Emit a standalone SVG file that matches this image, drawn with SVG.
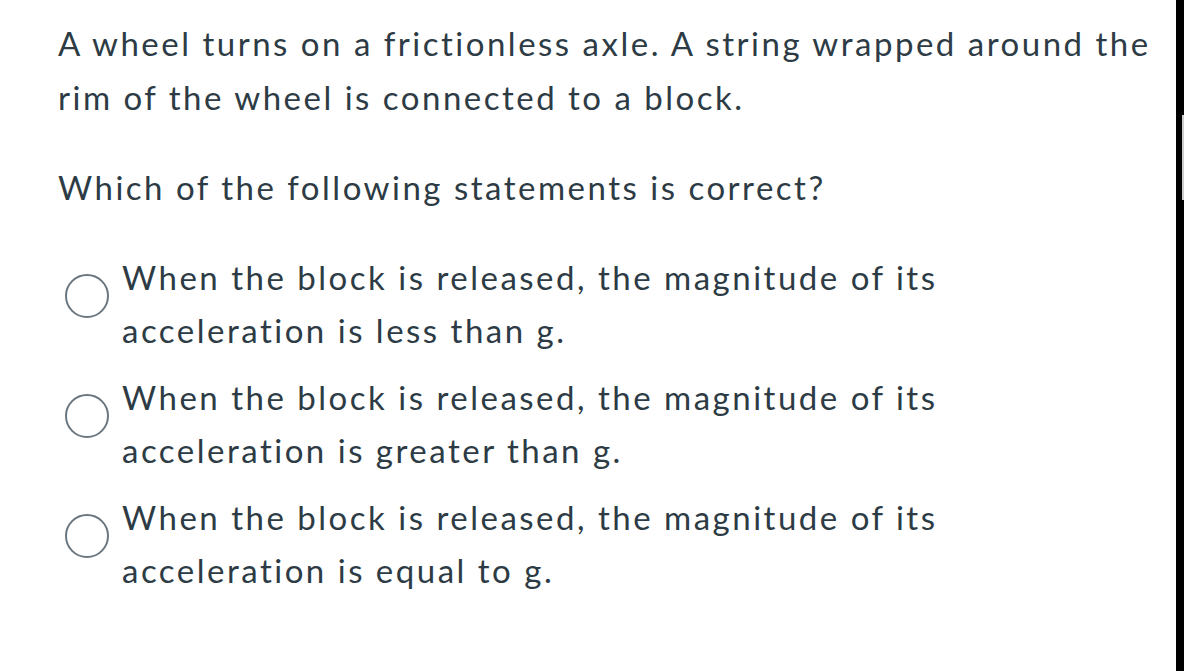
<svg xmlns="http://www.w3.org/2000/svg" width="1184" height="671" viewBox="0 0 1184 671">
<style>
text{font-family:Lato,"Open Sans",sans-serif;font-size:33px;fill:#2d3b45;letter-spacing:2.5px;font-variant-ligatures:none}
.r{fill:#fff;stroke:#6b7780;stroke-width:2}
</style>
<rect width="1184" height="671" fill="#fff"/>
<rect x="1176" y="0" width="8" height="671" fill="#000"/>
<rect x="1182" y="115" width="2" height="85" fill="#ccc"/>
<text x="58" y="56">A wheel turns on a frictionless axle. A string wrapped around the</text>
<text x="58" y="110">rim of the wheel is connected to a block.</text>
<text x="58" y="200">Which of the following statements is correct?</text>
<g id="opt1"><circle class="r" cx="87" cy="296" r="21"/>
<text x="122" y="290">When the block is released, the magnitude of its</text>
<text x="122" y="343">acceleration is less than g.</text></g>
<g id="opt2"><circle class="r" cx="87" cy="416" r="21"/>
<text x="122" y="410">When the block is released, the magnitude of its</text>
<text x="122" y="463">acceleration is greater than g.</text></g>
<g id="opt3"><circle class="r" cx="87" cy="536" r="21"/>
<text x="122" y="530">When the block is released, the magnitude of its</text>
<text x="122" y="583">acceleration is equal to g.</text></g>
</svg>
